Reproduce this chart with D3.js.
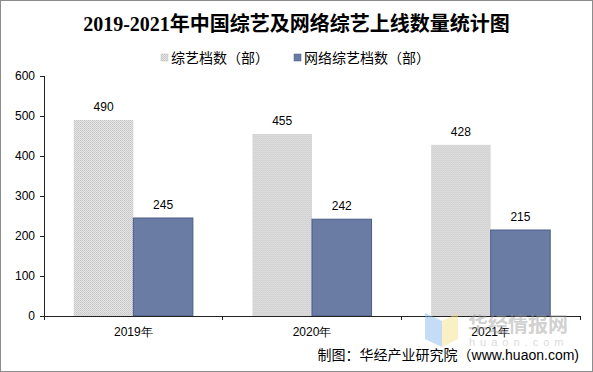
<!DOCTYPE html>
<html lang="zh">
<head>
  <meta charset="UTF-8">
  <title>2019-2021年中国综艺及网络综艺上线数量统计图</title>
  <style type="text/css">
    body {
      margin: 0;
      background: #fff;
      font-family: "Liberation Sans", "Noto Sans CJK SC", sans-serif;
    }
    .axis path, .axis line {
      fill: none;
      stroke: #222;
      shape-rendering: crispEdges;
    }
    .axis text {
      font-size: 12px;
      fill: #000;
    }
  </style>
  <script src="https://cdn.jsdelivr.net/npm/d3@7"></script>
</head>
<body>
<div id="chart"></div>
<script>
  // data
  var years = ["2019年", "2020年", "2021年"];
  var seriesNames = ["综艺档数（部）", "网络综艺档数（部）"];
  var tvShows = [490, 455, 428];
  var webShows = [245, 242, 215];
  var yTicks = [0, 100, 200, 300, 400, 500, 600];

  var W = 593, H = 372;
  var margin = {top: 76, right: 13, bottom: 56, left: 44},
      width = W - margin.left - margin.right,
      height = H - margin.top - margin.bottom;

  var svg = d3.select("#chart").append("svg")
      .attr("width", W)
      .attr("height", H);

  // patterns / colours
  var defs = svg.append("defs");
  var pat = defs.append("pattern")
      .attr("id", "dots")
      .attr("width", 2).attr("height", 2)
      .attr("patternUnits", "userSpaceOnUse");
  pat.append("rect").attr("width", 2).attr("height", 2).attr("fill", "#e4e4e4");
  pat.append("rect").attr("width", 1).attr("height", 1).attr("fill", "#c6c6c6");
  pat.append("rect").attr("x", 1).attr("y", 1).attr("width", 1).attr("height", 1).attr("fill", "#cfcfcf");

  var fills = ["url(#dots)", "#6a7ba4"];
  var strokes = ["none", "#4b5c88"];

  // outer frame
  svg.append("rect")
      .attr("x", 0.5).attr("y", 0.5)
      .attr("width", W - 1).attr("height", H - 1)
      .attr("fill", "none")
      .attr("stroke", "#8c8c8c");

  // title
  svg.append("text")
      .attr("x", W / 2)
      .attr("y", 31)
      .attr("text-anchor", "middle")
      .style("font-family", "'Liberation Serif', 'Noto Sans CJK SC', serif")
      .style("font-weight", "bold")
      .style("font-size", "20px")
      .text("2019-2021年中国综艺及网络综艺上线数量统计图");

  // legend
  var legendX = [161, 294];
  var legend = svg.append("g");
  seriesNames.forEach(function(name, i) {
    legend.append("rect")
        .attr("x", legendX[i]).attr("y", 54)
        .attr("width", 7).attr("height", 7)
        .attr("fill", fills[i])
        .attr("stroke", i == 0 ? "#bdbdbd" : strokes[i])
        .attr("stroke-width", 0.5);
    legend.append("text")
        .attr("x", legendX[i] + 10)
        .attr("y", 63)
        .style("font-size", "14px")
        .style("font-family", "'Noto Sans CJK SC', sans-serif")
        .text(name);
  });

  var g = svg.append("g")
      .attr("transform", "translate(" + margin.left + "," + margin.top + ")");

  var x0 = d3.scaleBand().domain(years).range([0, width]).paddingInner(0).paddingOuter(0);
  var x1 = d3.scaleBand().domain([0, 1]).range([x0.bandwidth() / 6, x0.bandwidth() * 5 / 6]);
  var y = d3.scaleLinear().domain([0, 600]).range([height, 0]);

  var data = years.map(function(yr, i) { return {year: yr, values: [tvShows[i], webShows[i]]}; });

  var groups = g.selectAll(".grp")
      .data(data)
    .enter().append("g")
      .attr("class", "grp")
      .attr("transform", function(d) { return "translate(" + x0(d.year) + ",0)"; });

  groups.selectAll("rect")
      .data(function(d) { return d.values.map(function(v, i) { return {i: i, v: v}; }); })
    .enter().append("rect")
      .attr("x", function(d) { return x1(d.i); })
      .attr("y", function(d) { return y(d.v); })
      .attr("width", x1.bandwidth())
      .attr("height", function(d) { return height - y(d.v); })
      .attr("fill", function(d) { return fills[d.i]; })
      .attr("stroke", function(d) { return strokes[d.i]; })
      .attr("stroke-width", 1);

  groups.selectAll(".lbl")
      .data(function(d) { return d.values.map(function(v, i) { return {i: i, v: v}; }); })
    .enter().append("text")
      .attr("class", "lbl")
      .attr("x", function(d) { return x1(d.i) + x1.bandwidth() / 2; })
      .attr("y", function(d) { return y(d.v) - 9; })
      .attr("text-anchor", "middle")
      .style("font-size", "12px")
      .text(function(d) { return d.v; });

  // y axis
  g.append("g")
      .attr("class", "axis")
      .call(d3.axisLeft(y).tickValues(yTicks).tickSize(4).tickSizeOuter(4).tickPadding(5));

  // x axis, ticks at category boundaries
  var xAxis = g.append("g")
      .attr("class", "axis")
      .attr("transform", "translate(0," + height + ")")
      .call(d3.axisBottom(x0).tickSize(0).tickPadding(11));
  xAxis.select(".domain").remove();
  xAxis.append("line")
      .attr("x1", -4).attr("x2", width)
      .attr("stroke", "#222");
  xAxis.selectAll(".sep")
      .data(d3.range(0, years.length + 1))
    .enter().append("line")
      .attr("class", "sep")
      .attr("x1", function(i) { return i * x0.step(); })
      .attr("x2", function(i) { return i * x0.step(); })
      .attr("y1", 0).attr("y2", 4);

  // watermark
  var wm = svg.append("g").attr("opacity", 0.45);
  wm.append("polygon")
      .attr("points", "425,313 442,321 442,347 425,339")
      .attr("fill", "#7fb2ee");
  wm.append("polygon")
      .attr("points", "442,321 458,313 458,339 442,347")
      .attr("fill", "#f3de7e");
  wm.append("text")
      .attr("x", 468).attr("y", 332)
      .style("font-family", "'Noto Sans CJK SC', sans-serif")
      .style("font-weight", "bold")
      .style("font-size", "20px")
      .attr("fill", "#9a9a9a")
      .text("华经情报网");
  wm.append("text")
      .attr("x", 469).attr("y", 346)
      .style("font-size", "11px")
      .style("letter-spacing", "5px")
      .attr("fill", "#b0b0b0")
      .text("huaon.com");

  // source
  svg.append("text")
      .attr("x", 579)
      .attr("y", 360)
      .attr("text-anchor", "end")
      .style("font-size", "14px")
      .style("font-family", "'Liberation Sans', 'Noto Sans CJK SC', sans-serif")
      .text("制图：华经产业研究院（www.huaon.com)");
</script>
</body>
</html>
